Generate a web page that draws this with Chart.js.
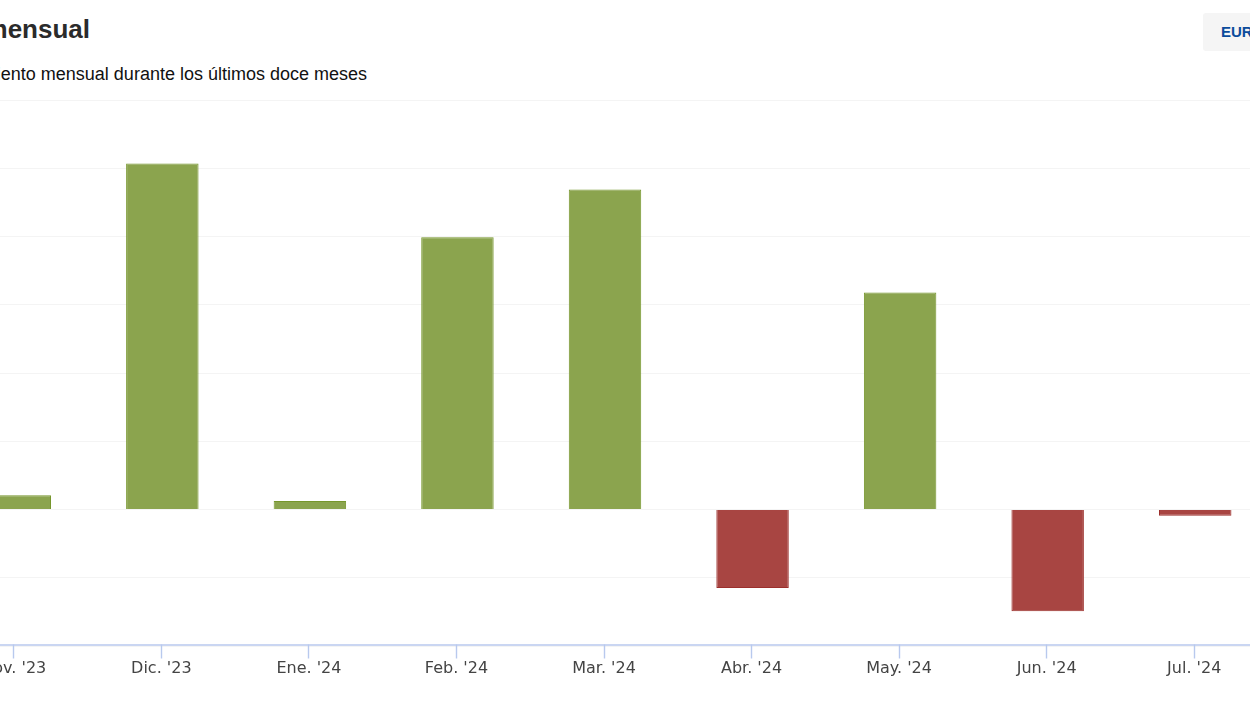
<!DOCTYPE html>
<html lang="es"><head><meta charset="utf-8">
<script src="https://cdn.jsdelivr.net/npm/chart.js@4"></script>
<style>
html,body{margin:0;padding:0;width:1250px;height:703px;overflow:hidden;background:#fff}
#c{position:absolute;left:-59px;top:0}
.t{position:absolute;white-space:nowrap;font-family:"Liberation Sans",Arial,sans-serif}
#title{right:1160px;top:13px;font-size:26px;line-height:32px;font-weight:700;color:#2b2b2b}
#sub{right:883px;top:63px;font-size:18px;line-height:22px;color:#111}
#btn{position:absolute;left:1203px;top:13px;width:70px;height:38px;background:#f5f5f5;border-radius:3px}
#btn span{position:absolute;left:18px;top:9px;font:700 15px/20px "Liberation Sans",Arial,sans-serif;color:#0b4c9c}
</style></head><body>
<div id="title" class="t">Rendimiento mensual</div>
<div id="sub" class="t">Rendimiento mensual durante los últimos doce meses</div>
<div id="btn"><span>EUR</span></div>
<canvas id="c" width="1328" height="703"></canvas>
<script>
const categories = ["Nov. '23","Dic. '23","Ene. '24","Feb. '24","Mar. '24","Abr. '24","May. '24","Jun. '24","Jul. '24"];
const returns = [0.21,5.07,0.125,3.99,4.69,-1.15,3.18,-1.49,-0.09];
const axisLine = '#b8c9ee';
const fills = returns.map(v => v >= 0 ? '#8ba44e' : '#a84542');
const edges = returns.map(v => v >= 0 ? '#76962c' : '#9c2f2c');
const tickMarks = {
  id:'tickMarks',
  afterDraw(chart){
    const x = chart.scales.x, ctx = chart.ctx, b = chart.chartArea.bottom - 1.5;
    ctx.save(); ctx.strokeStyle = axisLine; ctx.lineWidth = 1.4;
    x.ticks.forEach((t,i)=>{
      const p = Math.round(x.getPixelForTick(i)-1.5)+0.5;
      ctx.beginPath(); ctx.moveTo(p,b); ctx.lineTo(p,b+14); ctx.stroke();
    });
    ctx.beginPath(); ctx.moveTo(chart.chartArea.left,b+0.5); ctx.lineTo(chart.chartArea.right,b+0.5); ctx.stroke();
    ctx.restore();
  }
};
new Chart(document.getElementById('c'),{
  type:'bar',
  data:{labels:categories,datasets:[{data:returns,backgroundColor:fills,borderColor:edges,borderWidth:1,barPercentage:0.491,categoryPercentage:1}]},
  options:{
    responsive:false,animation:false,devicePixelRatio:1,
    layout:{padding:{top:100,left:0,right:0,bottom:0}},
    plugins:{legend:{display:false},title:{display:false},tooltip:{enabled:false}},
    scales:{
      x:{
        afterFit(s){s.height=57},
        grid:{display:false},border:{display:false},
        ticks:{color:'#444',font:{family:'"DejaVu Sans"',size:16},padding:5,maxRotation:0,autoSkip:false,labelOffset:-1}
      },
      y:{
        min:-2,max:6,
        afterFit(s){s.width=0},
        border:{display:false},
        grid:{color:'#f4f4f4',drawTicks:false,lineWidth:1},
        ticks:{display:false,stepSize:1}
      }
    }
  },
  plugins:[tickMarks]
});
</script>
</body></html>
